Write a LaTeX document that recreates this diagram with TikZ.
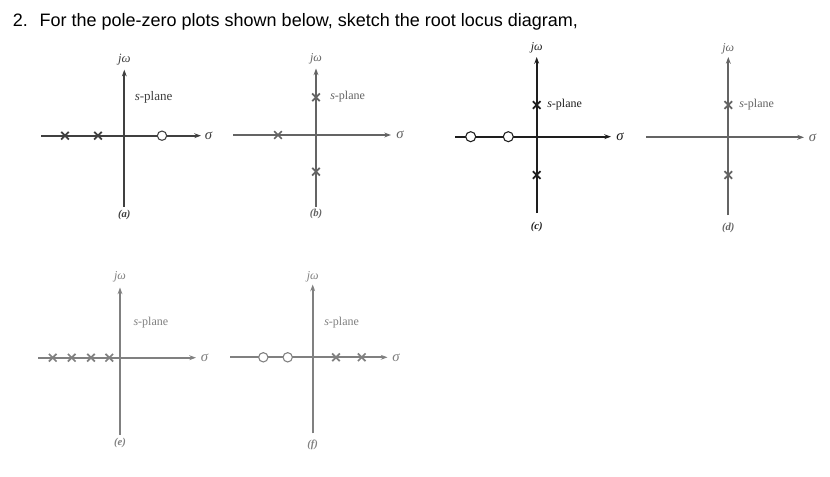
\documentclass[tikz,border=0pt]{standalone}
\usepackage{fontspec}
\setmainfont{Liberation Serif}
\newfontfamily\arialfont{Liberation Sans}
\usetikzlibrary{arrows.meta,shapes.misc}
\definecolor{cA}{HTML}{404040}
\definecolor{cB}{HTML}{646464}
\definecolor{cC}{HTML}{1E1E1E}
\definecolor{cD}{HTML}{646464}
\definecolor{cE}{HTML}{808080}
\definecolor{cF}{HTML}{808080}
\tikzset{
  axis/.style={line width=1.3pt,-{Stealth[length=5pt,width=3.6pt]}},
  pole/.style={cross out,draw,line width=1.3pt,minimum size=4.4pt,inner sep=0pt},
  zero/.style={circle,draw,fill=white,line width=0.8pt,minimum size=7pt,inner sep=0pt},
  lbl/.style={font=\fontsize{9}{10}\selectfont,inner sep=0pt},
  sig/.style={font=\fontsize{11}{12}\selectfont\itshape,inner sep=0pt,anchor=west},
  figcap/.style={font=\fontsize{8}{9}\selectfont\bfseries\itshape,inner sep=0pt},
}
\begin{document}
\begin{tikzpicture}[x=0.75pt,y=-0.75pt]
\useasboundingbox (0,0) rectangle (830,477);
\fill[white] (0,0) rectangle (830,477);
\node[anchor=base west,inner sep=0pt,font=\arialfont\fontsize{13.5}{15}\selectfont] (title) at (12.5,27)
  {2.\hspace{0.66em}For the pole-zero plots shown below, sketch the root locus diagram,};

% ---- panel (a)
\begin{scope}[draw=cA,text=cA,color=cA]
\coordinate (aL) at (41,135.7); \coordinate (aR) at (201,135.7);
\coordinate (aB) at (124.3,206.7); \coordinate (aT) at (124.3,69.7);
\draw[axis] (aL) -- (aR);
\draw[axis] (aB) -- (aT);
\node[lbl,font=\fontsize{9.5}{10}\selectfont] (aJ) at (124.3,60) {\textit{jω}};
\node[lbl,anchor=west,font=\fontsize{9.8}{10}\selectfont] (aS) at (134.5,97) {\textit{s}-plane};
\node[sig] (aSig) at (204.5,135.7) {σ};
\node[pole] (ap1) at (65,135.7) {};
\node[pole] (ap2) at (98,135.7) {};
\node[zero] (az1) at (162,135.7) {};
\node[figcap] (acap) at (124.3,215) {(\textit{a})};
\end{scope}

% ---- panel (b)
\begin{scope}[draw=cB,text=cB,color=cB]
\coordinate (bL) at (233,135); \coordinate (bR) at (391,135);
\coordinate (bB) at (316,206.7); \coordinate (bT) at (316,68.5);
\draw[axis] (bL) -- (bR);
\draw[axis] (bB) -- (bT);
\node[lbl] (bJ) at (316,59) {\textit{jω}};
\node[lbl,anchor=west] (bS) at (330,97) {\textit{s}-plane};
\node[sig] (bSig) at (396,135) {σ};
\node[pole] (bp1) at (278,135) {};
\node[pole] (bp2) at (316,97.3) {};
\node[pole] (bp3) at (316,171.7) {};
\node[figcap] (bcap) at (316,214) {(\textit{b})};
\end{scope}

% ---- panel (c)
\begin{scope}[draw=cC,text=cC,color=cC]
\coordinate (cL) at (455,136.7); \coordinate (cR) at (611,136.7);
\coordinate (cB) at (536.7,213); \coordinate (cT) at (536.7,57);
\draw[axis] (cL) -- (cR);
\draw[axis] (cB) -- (cT);
\node[lbl] (cJ) at (536.7,48) {\textit{jω}};
\node[lbl,anchor=west] (cS) at (547,105) {\textit{s}-plane};
\node[sig] (cSig) at (616,136.7) {σ};
\node[zero,minimum size=7.5pt] (cz1) at (470.7,136.7) {};
\node[zero,minimum size=7.5pt] (cz2) at (508.3,136.7) {};
\node[pole] (cp1) at (536.7,105) {};
\node[pole] (cp2) at (536.7,175) {};
\node[figcap] (ccap) at (536.7,227) {(\textit{c})};
\end{scope}

% ---- panel (d)
\begin{scope}[draw=cD,text=cD,color=cD]
\coordinate (dL) at (646,137.3); \coordinate (dR) at (804,137.3);
\coordinate (dB) at (728.3,215); \coordinate (dT) at (728.3,57);
\draw[axis] (dL) -- (dR);
\draw[axis] (dB) -- (dT);
\node[lbl] (dJ) at (728.3,48.5) {\textit{jω}};
\node[lbl,anchor=west] (dS) at (739,105) {\textit{s}-plane};
\node[sig] (dSig) at (808.5,137.3) {σ};
\node[pole] (dp1) at (728.3,105) {};
\node[pole] (dp2) at (728.3,175) {};
\node[figcap] (dcap) at (728.3,228) {(\textit{d})};
\end{scope}

% ---- panel (e)
\begin{scope}[draw=cE,text=cE,color=cE]
\coordinate (eL) at (38.3,357.7); \coordinate (eR) at (196,357.7);
\coordinate (eB) at (120,435); \coordinate (eT) at (120,287.5);
\draw[axis] (eL) -- (eR);
\draw[axis] (eB) -- (eT);
\node[lbl] (eJ) at (120,277.3) {\textit{jω}};
\node[lbl,anchor=west] (eS) at (133.3,322.3) {\textit{s}-plane};
\node[sig] (eSig) at (200.5,357.7) {σ};
\node[pole] (ep1) at (52.7,357.7) {};
\node[pole] (ep2) at (71.7,357.7) {};
\node[pole] (ep3) at (91,357.7) {};
\node[pole] (ep4) at (109.3,357.7) {};
\node[figcap] (ecap) at (120,443.3) {(\textit{e})};
\end{scope}

% ---- panel (f)
\begin{scope}[draw=cF,text=cF,color=cF]
\coordinate (fL) at (230,357.3); \coordinate (fR) at (387.5,357.3);
\coordinate (fB) at (312.7,433.3); \coordinate (fT) at (312.7,284.5);
\draw[axis] (fL) -- (fR);
\draw[axis] (fB) -- (fT);
\node[lbl] (fJ) at (312.7,276.7) {\textit{jω}};
\node[lbl,anchor=west] (fS) at (324,322.3) {\textit{s}-plane};
\node[sig] (fSig) at (392,357.3) {σ};
\node[zero] (fz1) at (263.3,357.3) {};
\node[zero] (fz2) at (287.7,357.3) {};
\node[pole] (fp1) at (336,357.3) {};
\node[pole] (fp2) at (361.7,357.3) {};
\node[figcap] (fcap) at (312.7,445) {(\textit{f})};
\end{scope}
\end{tikzpicture}
\end{document}
